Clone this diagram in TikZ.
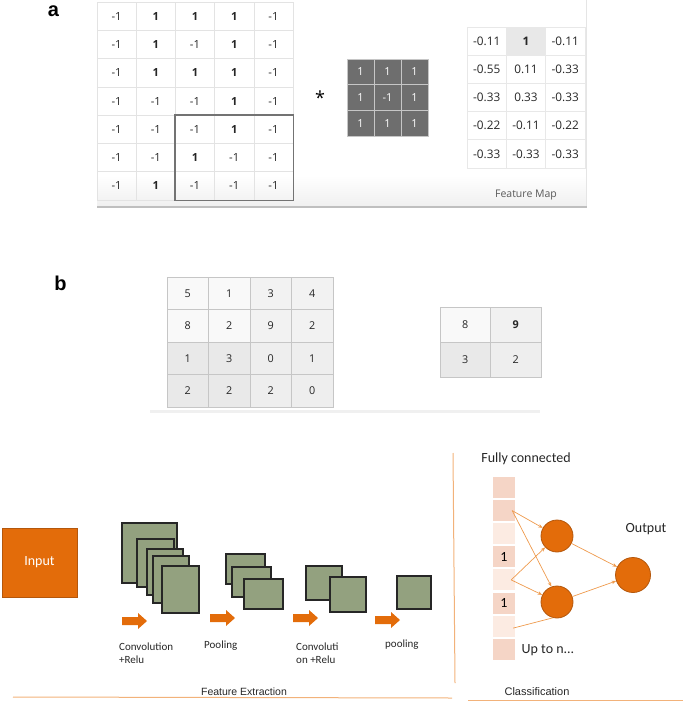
\documentclass[tikz,border=0pt]{standalone}
\usepackage{fontspec}
\setmainfont{Open Sans}
\newfontfamily\calfont{Carlito}
\newfontfamily\arifont{Liberation Sans}
\usetikzlibrary{arrows.meta,fit}
\definecolor{orng}{HTML}{E36C0A}
\definecolor{orngdark}{HTML}{B4570C}
\definecolor{orngline}{HTML}{EE9A4D}
\definecolor{sepline}{HTML}{F2B27A}
\definecolor{sage}{HTML}{93A17F}
\definecolor{kern}{HTML}{6E6E6E}
\definecolor{fcmid}{HTML}{F5D5C6}
\definecolor{fclight}{HTML}{FCEBE2}
\definecolor{txt}{HTML}{262626}
\begin{document}
\begin{tikzpicture}[x=1pt,y=-1pt,
  gridcell/.style={draw=gray!22, line width=0.6pt, inner sep=0pt, text=txt,
    font=\fontsize{11.2}{13}\selectfont},
  kcell/.style={draw=gray!45, fill=kern, line width=0.6pt, inner sep=0pt, text=white,
    minimum width=27pt, minimum height=25.7pt, font=\fontsize{11}{13}\selectfont},
  fmcell/.style={draw=gray!18, line width=0.6pt, inner sep=0pt, text=txt,
    minimum width=39.3pt, minimum height=28.2pt, font=\fontsize{11.8}{13}\selectfont},
  bcell/.style={draw=gray!45, line width=0.6pt, inner sep=0pt, text=txt,
    font=\fontsize{10.8}{12}\selectfont},
  greenbox/.style={draw=black!85, fill=sage, line width=1.1pt, inner sep=0pt},
  lbl/.style={font=\calfont\fontsize{11}{12.5}\selectfont, align=left, anchor=west, inner sep=0pt, text=black!85},
  fccell/.style={inner sep=0pt, minimum width=22pt, minimum height=21pt, font=\calfont\fontsize{14}{16}\selectfont},
  neuron/.style={circle, fill=orng, draw=orngdark, line width=0.8pt, inner sep=0pt},
  conn/.style={orngline, line width=0.7pt},
  connarr/.style={conn, -{Stealth[length=4.5pt,width=3.5pt]}},
  sep/.style={sepline, line width=1pt},
  panellabel/.style={font=\arifont\bfseries\fontsize{20}{22}\selectfont, inner sep=0pt}
]
\useasboundingbox (0,0) rectangle (685,703);

% ---------- panel a ----------
\shade[top color=white, bottom color=gray!12] (97,176) rectangle (586,206);
\draw[gray!20, line width=0.8pt] (586.5,0) -- (586.5,206);
\draw[gray!50, line width=1.4pt] (97,207) -- (587,207);
\node[panellabel] (la) at (53.5,11) {a};

\foreach \row [count=\r] in {
  {-1,\textbf{1},\textbf{1},\textbf{1},-1},
  {-1,\textbf{1},-1,\textbf{1},-1},
  {-1,\textbf{1},\textbf{1},\textbf{1},-1},
  {-1,-1,-1,\textbf{1},-1},
  {-1,-1,-1,\textbf{1},-1},
  {-1,-1,\textbf{1},-1,-1},
  {-1,\textbf{1},-1,-1,-1}}{
  \foreach \v [count=\c] in \row {
    \node[gridcell, minimum width=39.2pt, minimum height=28.3pt]
      (a-\r-\c) at ({97+39.2*(\c-0.5)},{2+28.3*(\r-0.5)}) {\v};
  }
}
\node[draw=black!55, line width=1.5pt, inner sep=0pt, fit=(a-5-3)(a-7-5)] (win) {};

\node[font=\fontsize{18}{18}\selectfont, text=black] (star) at (320,98) {*};

\foreach \row [count=\r] in {{1,1,1},{1,-1,1},{1,1,1}}{
  \foreach \v [count=\c] in \row {
    \node[kcell] (k-\r-\c) at ({347+27*(\c-0.5)},{59+25.7*(\r-0.5)}) {\v};
  }
}

\foreach \row [count=\r] in {
  {-0.11,\textbf{1},-0.11},
  {-0.55,0.11,-0.33},
  {-0.33,0.33,-0.33},
  {-0.22,-0.11,-0.22},
  {-0.33,-0.33,-0.33}}{
  \foreach \v [count=\c] in \row {
    \node[fmcell] (f-\r-\c) at ({467+39.3*(\c-0.5)},{27+28.2*(\r-0.5)}) {\v};
  }
}
\node[fmcell, fill=gray!18] (f-1-2) at ({467+39.3*1.5},{27+28.2*0.5}) {\textbf{1}};
\node[text=black!65, font=\fontsize{10.5}{12}\selectfont] (fmlabel) at (526,195) {Feature Map};

% ---------- panel b ----------
\node[panellabel] (lb) at (60.5,283) {b};
\draw[gray!12, line width=3pt] (150,411) -- (540,411);
\foreach \row [count=\r] in {{5,1,3,4},{8,2,9,2},{1,3,0,1},{2,2,2,0}}{
  \foreach \v [count=\c] in \row {
    \pgfmathsetmacro\shadeval{\r<3 ? (\c<3 ? 5 : 10) : (\c<3 ? 17 : 13)}
    \node[bcell, fill=gray!\shadeval, minimum width=41.5pt, minimum height=32.5pt]
      (b-\r-\c) at ({167+41.5*(\c-0.5)},{277+32.5*(\r-0.5)}) {\v};
  }
}
\node[bcell, fill=gray!5, minimum width=50.5pt, minimum height=35pt] (o-1-1) at (465.25,324.5) {8};
\node[bcell, fill=gray!11, minimum width=50.5pt, minimum height=35pt] (o-1-2) at (515.75,324.5) {\textbf{9}};
\node[bcell, fill=gray!17, minimum width=50.5pt, minimum height=35pt] (o-2-1) at (465.25,359.5) {3};
\node[bcell, fill=gray!13, minimum width=50.5pt, minimum height=35pt] (o-2-2) at (515.75,359.5) {2};

% ---------- bottom: CNN ----------
\node[fill=orng, draw=orngdark, line width=0.5pt, minimum width=75pt, minimum height=69pt,
  text=white, font=\calfont\fontsize{14}{16}\selectfont] (input) at (39.5,562.5) {Input};

\node[greenbox, minimum width=55pt, minimum height=60pt] (c1) at (149.5,553) {};
\node[greenbox, minimum width=37pt, minimum height=48pt] (c2) at (155.5,563) {};
\node[greenbox, minimum width=36pt, minimum height=46pt] (c3) at (165,572) {};
\node[greenbox, minimum width=36pt, minimum height=47pt] (c4) at (171,579.5) {};
\node[greenbox, minimum width=37pt, minimum height=47pt] (c5) at (180.5,589.5) {};

\node[greenbox, minimum width=39pt, minimum height=30pt] (p1) at (245.5,569) {};
\node[greenbox, minimum width=39pt, minimum height=30pt] (p2) at (251.5,582) {};
\node[greenbox, minimum width=39pt, minimum height=30pt] (p3) at (263.5,594) {};

\node[greenbox, minimum width=36pt, minimum height=34pt] (d1) at (324,583) {};
\node[greenbox, minimum width=36pt, minimum height=35pt] (d2) at (348,594.5) {};

\node[greenbox, minimum width=34pt, minimum height=33pt] (q1) at (414,592.5) {};

\foreach \ax/\ay in {122/621, 210/618, 293/618, 375/620}{
  \fill[orng] (\ax,\ay-4) -- ++(16,0) -- ++(0,-4) -- ++(9,8) -- ++(-9,8) -- ++(0,-4) -- ++(-16,0) -- cycle;
}

\node[lbl] (t1) at (119,653) {Convolution\\+Relu};
\node[lbl] (t2) at (204,646) {Pooling};
\node[lbl] (t3) at (296,653) {Convoluti\\on +Relu};
\node[lbl] (t4) at (385,645) {pooling};

\node[font=\arifont\fontsize{10.5}{12}\selectfont, text=black!85] (fe) at (244,692) {Feature Extraction};
\node[font=\arifont\fontsize{11}{12}\selectfont, text=black!85] (cl) at (537,692) {Classification};

\coordinate (s1a) at (13,697);
\coordinate (s1b) at (452,698);
\coordinate (s2a) at (468,700);
\coordinate (s2b) at (683,700);
\coordinate (s3a) at (453,453);
\coordinate (s3b) at (455,683);
\draw[sep] (s1a) -- (s1b);
\draw[sep] (s2a) -- (s2b);
\draw[sep] (s3a) -- (s3b);

% ---------- classification ----------
\node[font=\calfont\fontsize{14}{16}\selectfont, text=black!85] (fc) at (526,459) {Fully connected};
\foreach \i/\col/\t in {1/fcmid/,2/fcmid/,3/fclight/,4/fcmid/1,5/fclight/,6/fcmid/1,7/fclight/,8/fcmid/}{
  \node[fccell, fill=\col] (fc\i) at (504,{487.5+23.1*(\i-1)}) {\t};
}
\node[font=\calfont\fontsize{14}{16}\selectfont, text=black!85] (upto) at (548,650) {Up to n...};

\node[neuron, minimum size=32pt] (h1) at (557,536) {};
\node[neuron, minimum size=32pt] (h2) at (557,602) {};
\node[neuron, minimum size=35pt] (out) at (633,575) {};
\node[font=\calfont\fontsize{14}{16}\selectfont, text=black!85] (outlbl) at (646,529) {Output};

\draw[connarr] ([xshift=-3pt]fc2.east) -- (h1);
\draw[connarr] ([xshift=-3pt]fc2.east) -- (h2.110);
\draw[connarr] ([xshift=-4pt]fc5.east) -- (h1);
\draw[connarr] ([xshift=-4pt]fc5.east) -- (h2);
\draw[conn] ([xshift=-2pt,yshift=-2pt]fc7.east) -- (h2.255);
\draw[connarr] (h1) -- (out);
\draw[connarr] (h2) -- (out);
\end{tikzpicture}
\end{document}
